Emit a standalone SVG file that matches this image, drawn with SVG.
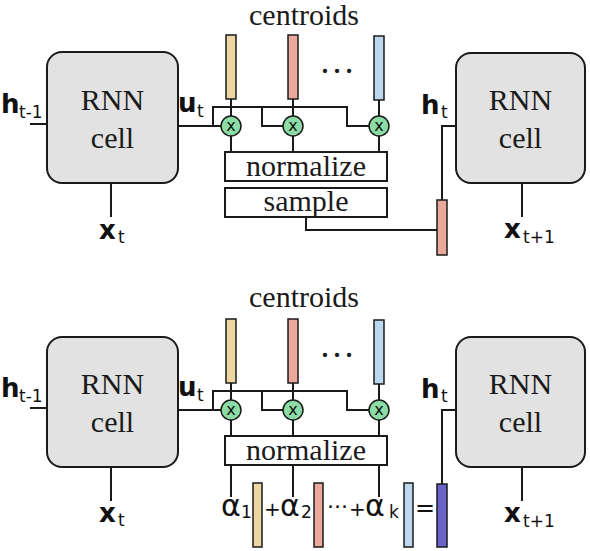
<svg xmlns="http://www.w3.org/2000/svg" width="590" height="551" viewBox="0 0 590 551">
<style>
.rnn{fill:#e2e2e2;stroke:#1a1a1a;stroke-width:2}
.serif{font-family:"Liberation Serif","Times New Roman",serif;fill:#1a1a1a}
.big{font-size:30px;text-anchor:middle}
.lab{font-family:"DejaVu Sans",Verdana,sans-serif;font-weight:bold;font-size:26px;fill:#111}
.sub{font-family:"DejaVu Sans",Verdana,sans-serif;font-size:17px;fill:#111}
.math{font-family:"DejaVu Sans",Verdana,sans-serif;fill:#111}
.box{fill:#fff;stroke:#1a1a1a;stroke-width:2}
.bar{stroke:#1a1a1a;stroke-width:1.5}
.tan{fill:#eed6a2}.sal{fill:#eba99b}.blu{fill:#bdd7ec}.dk{fill:#6a63c9}
.mul{fill:#8bdca5;stroke:#1a1a1a;stroke-width:1.5}
.mx{font-family:"DejaVu Sans",sans-serif;font-size:16px;text-anchor:middle;fill:#111}
.wire{fill:none;stroke:#1a1a1a;stroke-width:2}
</style>

<!-- ========== TOP PANEL ========== -->
<g id="top-panel">
<g id="connectors-top">
<path class="wire" d="M30 124H47"/>
<path class="wire" d="M111 183V217"/>
<path class="wire" d="M522 183V217"/>
<path class="wire" d="M178 126H221"/>
<path class="wire" d="M213 126V107H347V126H369"/>
<path class="wire" d="M262 107V126H283"/>
<path class="wire" d="M231 99V116M293 99V116M379 100V116"/>
<path class="wire" d="M231 136V152M293 136V152M379 136V152"/>
<path class="wire" d="M306 217V230H437"/>
<path class="wire" d="M442 200V126H456"/>
</g>
<g id="rnn-left-top">
<rect class="rnn" x="47" y="52" width="131" height="131" rx="15"/>
<text class="serif big" x="112.5" y="110">RNN</text>
<text class="serif big" x="112.5" y="148">cell</text>
</g>
<g id="rnn-right-top">
<rect class="rnn" x="456" y="53" width="129" height="130" rx="15"/>
<text class="serif big" x="520.5" y="110">RNN</text>
<text class="serif big" x="520.5" y="148">cell</text>
</g>
<g id="labels-top">
<text class="lab" x="1" y="113">h</text><text class="sub" x="19" y="118">t-1</text>
<text class="lab" x="178" y="112">u</text><text class="sub" x="197" y="117">t</text>
<text class="lab" x="421" y="114">h</text><text class="sub" x="441" y="118">t</text>
<text class="lab" x="99" y="239">x</text><text class="sub" x="118" y="243">t</text>
<text class="lab" x="504" y="238">x</text><text class="sub" x="523" y="243">t+1</text>
<text class="serif big" x="304" y="25">centroids</text>
<text class="serif" x="337" y="73" font-size="36" text-anchor="middle">…</text>
</g>
<g id="centroids-top">
<rect class="bar tan" x="226" y="35" width="10" height="64"/>
<rect class="bar sal" x="288" y="35" width="10" height="64"/>
<rect class="bar blu" x="374" y="36" width="10" height="64"/>
</g>
<g id="mults-top">
<circle class="mul" cx="231" cy="126" r="10"/><text class="mx" x="231" y="131">x</text>
<circle class="mul" cx="293" cy="126" r="10"/><text class="mx" x="293" y="131">x</text>
<circle class="mul" cx="379" cy="126" r="10"/><text class="mx" x="379" y="131">x</text>
</g>
<g id="normalize-top">
<rect class="box" x="225" y="152" width="162" height="29"/>
<text class="serif big" x="306" y="176">normalize</text>
</g>
<g id="sample-top">
<rect class="box" x="225" y="188" width="162" height="29"/>
<text class="serif big" x="306" y="211">sample</text>
</g>
<g id="sampled-bar">
<rect class="bar sal" x="437" y="200" width="10" height="55"/>
</g>
</g>

<!-- ========== BOTTOM PANEL ========== -->
<g id="bottom-panel">
<g id="connectors-bottom">
<path class="wire" d="M30 408H47"/>
<path class="wire" d="M111 467V501"/>
<path class="wire" d="M522 467V501"/>
<path class="wire" d="M178 410H221"/>
<path class="wire" d="M213 410V391H347V410H369"/>
<path class="wire" d="M262 391V410H283"/>
<path class="wire" d="M231 383V400M293 383V400M379 384V400"/>
<path class="wire" d="M231 420V436M293 420V436M379 420V436"/>
<path class="wire" d="M231 465V497M293 465V497M379 465V497"/>
<path class="wire" d="M442 484V410H456"/>
</g>
<g id="rnn-left-bottom">
<rect class="rnn" x="47" y="337" width="131" height="130" rx="15"/>
<text class="serif big" x="112.5" y="394">RNN</text>
<text class="serif big" x="112.5" y="432">cell</text>
</g>
<g id="rnn-right-bottom">
<rect class="rnn" x="456" y="337" width="129" height="130" rx="15"/>
<text class="serif big" x="520.5" y="394">RNN</text>
<text class="serif big" x="520.5" y="432">cell</text>
</g>
<g id="labels-bottom">
<text class="lab" x="1" y="397">h</text><text class="sub" x="19" y="402">t-1</text>
<text class="lab" x="178" y="396">u</text><text class="sub" x="197" y="401">t</text>
<text class="lab" x="421" y="398">h</text><text class="sub" x="441" y="402">t</text>
<text class="lab" x="99" y="522">x</text><text class="sub" x="118" y="526">t</text>
<text class="lab" x="504" y="522">x</text><text class="sub" x="523" y="527">t+1</text>
<text class="serif big" x="304" y="307">centroids</text>
<text class="serif" x="337" y="357" font-size="36" text-anchor="middle">…</text>
</g>
<g id="centroids-bottom">
<rect class="bar tan" x="226" y="319" width="10" height="64"/>
<rect class="bar sal" x="288" y="319" width="10" height="64"/>
<rect class="bar blu" x="374" y="320" width="10" height="64"/>
</g>
<g id="mults-bottom">
<circle class="mul" cx="231" cy="410" r="10"/><text class="mx" x="231" y="415">x</text>
<circle class="mul" cx="293" cy="410" r="10"/><text class="mx" x="293" y="415">x</text>
<circle class="mul" cx="379" cy="410" r="10"/><text class="mx" x="379" y="415">x</text>
</g>
<g id="normalize-bottom">
<rect class="box" x="225" y="436" width="162" height="29"/>
<text class="serif big" x="306" y="460">normalize</text>
</g>
<g id="weighted-sum">
<text class="math" x="221" y="516" font-size="30">α</text><text class="sub" x="241" y="518" font-size="16">1</text>
<rect class="bar tan" x="253" y="483" width="9" height="64"/>
<text class="math" x="264" y="516" font-size="20">+</text>
<text class="math" x="280" y="516" font-size="30">α</text><text class="sub" x="301" y="518" font-size="16">2</text>
<rect class="bar sal" x="314" y="483" width="9" height="64"/>
<text class="math" x="327" y="514" font-size="22">···</text>
<text class="math" x="349" y="516" font-size="20">+</text>
<text class="math" x="365" y="516" font-size="30">α</text><text class="sub" x="389" y="518" font-size="16">k</text>
<rect class="bar blu" x="404" y="483" width="9" height="64"/>
<text class="math" x="415" y="516" font-size="24">=</text>
<rect class="bar dk" x="437" y="484" width="10" height="63"/>
</g>
</g>
</svg>
